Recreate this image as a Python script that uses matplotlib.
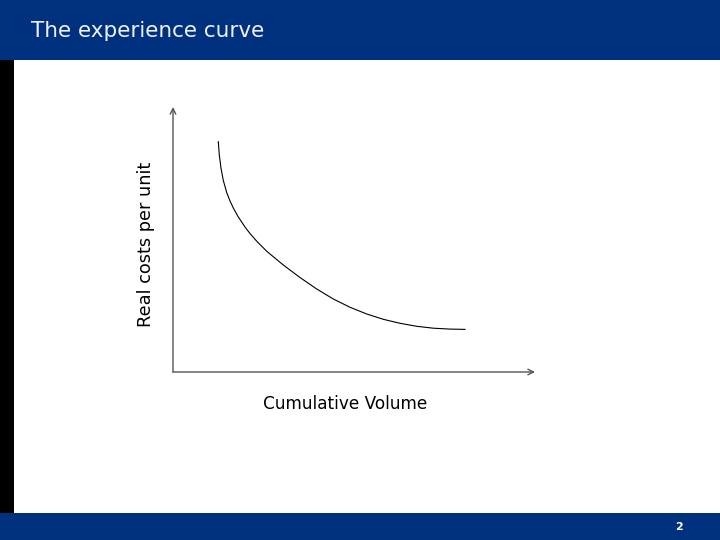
import matplotlib.pyplot as plt
from matplotlib.patches import Rectangle

# Data (x = cumulative volume, y = real cost per unit, both 0-100)
volume = [12.51, 12.79, 13.26, 13.90, 14.83, 15.75, 16.66, 17.96, 19.89, 21.27, 23.20, 25.97,
          30.47, 35.08, 39.70, 44.28, 48.90, 53.51, 58.09, 62.71, 67.32, 71.91, 76.52, 80.66]
cost = [86.91, 81.89, 76.87, 72.26, 67.74, 64.53, 61.89, 58.68, 54.72, 52.26, 49.25, 45.47,
        40.38, 35.66, 31.32, 27.55, 24.42, 21.89, 19.89, 18.38, 17.25, 16.53, 16.19, 16.08]
title = "The experience curve"
x_label = "Cumulative Volume"
y_label = "Real costs per unit"
page_no = "2"

navy = "#00317f"

fig = plt.figure(figsize=(7.2, 5.4), dpi=100)

# Slide frame: header, footer, black side bar
fig.patches.append(Rectangle((0, 1 - 60 / 540), 1, 60 / 540, transform=fig.transFigure,
                             facecolor=navy, edgecolor="none", zorder=0))
fig.patches.append(Rectangle((0, 0), 1, 27 / 540, transform=fig.transFigure,
                             facecolor=navy, edgecolor="none", zorder=0))
fig.patches.append(Rectangle((0, 27 / 540), 14 / 720, (513 - 60) / 540, transform=fig.transFigure,
                             facecolor="black", edgecolor="none", zorder=0))

fig.text(31 / 720, 1 - 31 / 540, title, color="#eef2ff", fontsize=15.5,
         ha="left", va="center", family="DejaVu Sans")
fig.text(679 / 720, 1 - 527 / 540, page_no, color="white", fontsize=8,
         fontweight="bold", ha="center", va="center")

# Chart area
ax = fig.add_axes([173 / 720, 1 - 372 / 540, 362 / 720, 265 / 540])
ax.set_xlim(0, 100)
ax.set_ylim(0, 100)
ax.axis("off")

ax.plot(volume, cost, color="black", linewidth=0.8, solid_joinstyle="round")

# Axes drawn as arrows
arrow = dict(arrowstyle="->", color="#555555", lw=1.0, shrinkA=0, shrinkB=0)
ax.annotate("", xy=(1, 0), xytext=(0, 0), xycoords="axes fraction", arrowprops=arrow)
ax.annotate("", xy=(0, 1), xytext=(0, 0), xycoords="axes fraction", arrowprops=arrow)

fig.text(345.5 / 720, 1 - 404 / 540, x_label, fontsize=12.2, ha="center", va="center")
fig.text(146 / 720, 1 - 244 / 540, y_label, fontsize=12.8, ha="center", va="center",
         rotation=90)

fig.savefig("out.png", dpi=100)
